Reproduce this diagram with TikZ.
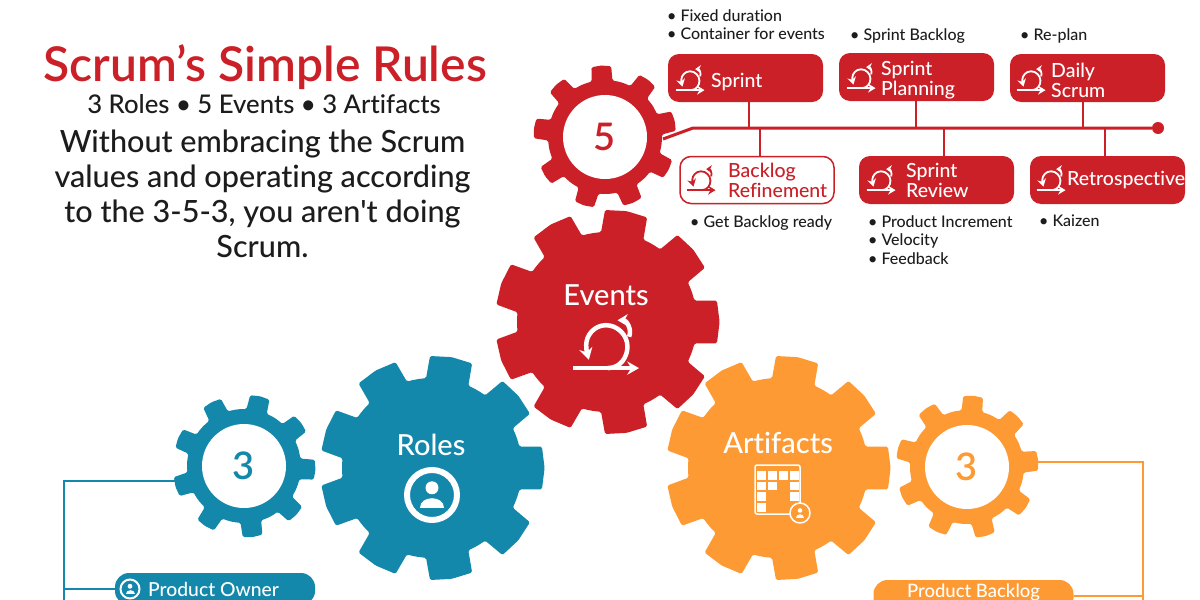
\documentclass[tikz,border=0pt]{standalone}
\usepackage{fontspec}
\setmainfont[Ligatures={TeX,NoCommon}]{Lato Medium}
\newfontfamily\semifont[Ligatures={TeX,NoCommon}]{Lato Semibold}
\usetikzlibrary{arrows.meta}

\definecolor{scrumred}{HTML}{CB2027}
\definecolor{scrumblue}{HTML}{1488AB}
\definecolor{scrumorange}{HTML}{FD9A33}
\definecolor{scruminkk}{HTML}{1C1C1C}

\newcommand{\fsize}[1]{\fontsize{#1}{#1}\selectfont}

% x, y, rotation, colour, root radius, tip radius, half width at root, half width at tip
\newcommand{\gearshape}[8]{%
    \fill[#4, rounded corners=1.5pt, shift={(#1,#2)}, rotate=#3] (-20:#5)
        \foreach \a in {0,40,...,320} {
            -- (\a-#7:#5) -- (\a-#8:#6) -- (\a:#6+0.6) -- (\a+#8:#6) -- (\a+#7:#5) -- (\a+17:#5) -- (\a+20:#5) -- (\a+23:#5)
        } -- cycle;
}
\newcommand{\biggear}[3]{\gearshape{#1}{#2}{0}{#3}{90}{112}{13.8}{11}}
\newcommand{\smallgear}[4]{\gearshape{#1}{#2}{#3}{#4}{57}{71}{10.5}{8}}

\tikzset{
    hub/.style={circle, fill=white, minimum size=84pt, inner sep=0pt, font=\semifont\fsize{38}},
    geartitle/.style={text=white, font=\fsize{29}, inner sep=0pt},
    eventbox/.style={rounded corners=11pt, minimum width=155pt, minimum height=48pt, fill=scrumred, inner sep=0pt},
    eventtext/.style={anchor=west, align=left, inner sep=0pt, text=white, font=\fontsize{19.5}{20}\selectfont},
    bullets/.style={anchor=north west, align=left, inner sep=0pt, text=scruminkk, font=\fsize{16}},
    rolebox/.style={rounded corners=14pt, minimum height=32pt, minimum width=200pt, fill=#1, inner sep=0pt},
    scrumicon/.pic={
        \draw[pic actions, -{Stealth[length=4.5pt 1.6, width=6pt 1.6]}] (-1,0.7) -- (1,0.7);
        \draw[pic actions, -{Stealth[length=4.5pt 1.6, width=6pt 1.6]}] (0.05,0.7)
            .. controls (0.45,0.7) and (0.65,0.35) .. (0.65,0.05)
            .. controls (0.65,-0.3) and (0.35,-0.6) .. (0,-0.6)
            .. controls (-0.35,-0.6) and (-0.6,-0.3) .. (-0.6,0.0)
            .. controls (-0.6,0.12) and (-0.58,0.22) .. (-0.52,0.45);
        \draw[pic actions, {Stealth[length=3pt 1.6, width=5pt 1.6]}-] (0.35,-0.75)
            .. controls (0.6,-0.75) and (0.8,-0.5) .. (0.7,-0.25);
    },
    personicon/.pic={
        \fill[pic actions] (0,-0.3) circle [radius=0.27];
        \fill[pic actions] (-0.5,0.55) .. controls (-0.5,-0.02) and (0.5,-0.02) .. (0.5,0.55) -- cycle;
    }
}

\begin{document}
\begin{tikzpicture}[x=1pt, y=-1pt]
    \clip (0,0) rectangle (1200,600);
    \fill[white] (0,0) rectangle (1200,600);

    \node (title) [text=scrumred, font=\semifont\fsize{48}, inner sep=0pt] at (265,67.5) {Scrum’s Simple Rules};
    \node (counts) [text=scruminkk, font=\fsize{25.7}, inner sep=0pt] at (264,104) {3 Roles • 5 Events • 3 Artifacts};
    \node (statement) [text=scruminkk, font=\fsize{30.6}, align=center, inner sep=0pt, anchor=north] at (262.5,130) {Without embracing the Scrum\\[4.4pt]values and operating according\\[4.4pt]to the 3-5-3, you aren\textquotesingle t doing\\[4.4pt]Scrum.};

    \smallgear{605}{137}{13}{scrumred}
    \biggear{607}{322}{scrumred}
    \biggear{432}{468}{scrumblue}
    \biggear{778}{468}{scrumorange}
    \smallgear{244}{466}{-3}{scrumblue}
    \smallgear{967}{467}{5}{scrumorange}

    \node (eventscount) [hub, text=scrumred] at (605,137) {5};
    \node (rolescount) [hub, text=scrumblue] at (244,466) {3};
    \node (artifactscount) [hub, text=scrumorange] at (967,467) {3};

    \node (events) [geartitle] at (606,295) {Events};
    \node (roles) [geartitle] at (431,445) {Roles};
    \node (artifacts) [geartitle] at (778,443) {Artifacts};

    \pic [draw=white, line width=4.5pt, scale=33] at (606,345) {scrumicon};

    \draw[white, line width=6pt] (432,495) circle [radius=25];
    \pic [fill=white, scale=24] at (432,495) {personicon};

    \draw[white, line width=1.5pt, rounded corners=2pt] (755,465) rectangle (800,514);
    \foreach \cx/\cy in {757/471,768/471,779/471,790/471,757/481.5,768/481.5,790/481.5,757/492,790/492,757/503} {
        \fill[white] (\cx,\cy) rectangle +(8.8,8.8);
    }
    \draw[white, line width=1.5pt, fill=scrumorange] (800,513) circle [radius=10];
    \pic [fill=white, scale=8.5] at (800,513) {personicon};

    \node (sprint) [eventbox] at (745.5,78) {};
    \node (planning) [eventbox] at (916.5,77) {};
    \node (daily) [eventbox] at (1087.5,78) {};
    \node (refinement) [eventbox, fill=white, draw=scrumred, line width=1.5pt, minimum width=154pt, minimum height=47pt] at (757,180) {};
    \node (review) [eventbox] at (936.5,180) {};
    \node (retro) [eventbox] at (1107.5,180) {};

    \node (sprintlabel) [eventtext] at (711,82) {Sprint};
    \node (planninglabel) [eventtext] at (881,80) {Sprint\\Planning};
    \node (dailylabel) [eventtext] at (1051,80) {Daily\\Scrum};
    \node (refinementlabel) [eventtext, text=scrumred] at (728,180.5) {Backlog\\Refinement};
    \node (reviewlabel) [eventtext] at (906,180) {Sprint\\Review};
    \node (retrolabel) [eventtext] at (1067,180) {Retrospective};

    \pic [draw=white, line width=1.8pt, scale=14.5] at (690,80) {scrumicon};
    \pic [draw=white, line width=1.8pt, scale=14.5] at (861,78) {scrumicon};
    \pic [draw=white, line width=1.8pt, scale=14.5] at (1031,80) {scrumicon};
    \pic [draw=scrumred, line width=1.8pt, scale=14.5] at (701,180) {scrumicon};
    \pic [draw=white, line width=1.8pt, scale=14.5] at (881,180) {scrumicon};
    \pic [draw=white, line width=1.8pt, scale=14.5] at (1051,180) {scrumicon};

    \node (sprintnotes) [bullets] at (667,9) {• Fixed duration\\[2.5pt]• Container for events};
    \node (planningnotes) [bullets] at (850,28) {• Sprint Backlog};
    \node (dailynotes) [bullets] at (1020,28) {• Re-plan};
    \node (refinementnotes) [bullets] at (690,215) {• Get Backlog ready};
    \node (reviewnotes) [bullets] at (868,215) {• Product Increment\\[2.5pt]• Velocity\\[2.5pt]• Feedback};
    \node (retronotes) [bullets] at (1039,215) {• Kaizen};

    \coordinate (eventstooth) at (663,139);
    \coordinate (timelinebend) at (693,128);
    \node (timelineend) [circle, fill=scrumred, minimum size=12pt, inner sep=0pt] at (1158,128) {};
    \draw[scrumred, line width=3pt] (eventstooth) -- (timelinebend) -- (timelineend);

    \coordinate (sprintjoin) at (749,128);
    \coordinate (planningjoin) at (916,128);
    \coordinate (dailyjoin) at (1083,128);
    \coordinate (refinementjoin) at (760,128);
    \coordinate (reviewjoin) at (944,128);
    \coordinate (retrojoin) at (1105,128);
    \draw[scrumred, line width=2.5pt] (sprintjoin) -- (sprintjoin |- sprint.south);
    \draw[scrumred, line width=2.5pt] (planningjoin) -- (planningjoin |- planning.south);
    \draw[scrumred, line width=2.5pt] (dailyjoin) -- (dailyjoin |- daily.south);
    \draw[scrumred, line width=2.5pt] (refinementjoin) -- (refinementjoin |- refinement.north);
    \draw[scrumred, line width=2.5pt] (reviewjoin) -- (reviewjoin |- review.north);
    \draw[scrumred, line width=2.5pt] (retrojoin) -- (retrojoin |- retro.north);

    \node (owner) [rolebox=scrumblue] at (215,589) {};
    \node (ownerlabel) [anchor=west, inner sep=0pt, text=white, font=\fsize{19.3}] at (148,589) {Product Owner};
    \draw[white, line width=2pt] (130,589) circle [radius=9.5];
    \pic [fill=white, scale=9] at (130,589) {personicon};

    \node (backlog) [rolebox=scrumorange] at (973.5,596) {};
    \node (backloglabel) [inner sep=0pt, text=white, font=\fsize{18.5}] at (973.5,592) {Product Backlog};

    \coordinate (rolestooth) at (178,481);
    \coordinate (rolescorner) at (64,481);
    \coordinate (rolesrail) at (64,601);
    \draw[scrumblue, line width=2.5pt] (rolestooth) -- (rolescorner) -- (rolesrail);
    \draw[scrumblue, line width=2.5pt] (owner) -- (owner -| rolesrail);

    \coordinate (artifactstooth) at (1036,462);
    \coordinate (artifactscorner) at (1143,462);
    \coordinate (artifactsrail) at (1143,601);
    \draw[scrumorange, line width=2.5pt] (artifactstooth) -- (artifactscorner) -- (artifactsrail);
    \draw[scrumorange, line width=2.5pt] (backlog) -- (backlog -| artifactsrail);
\end{tikzpicture}
\end{document}
